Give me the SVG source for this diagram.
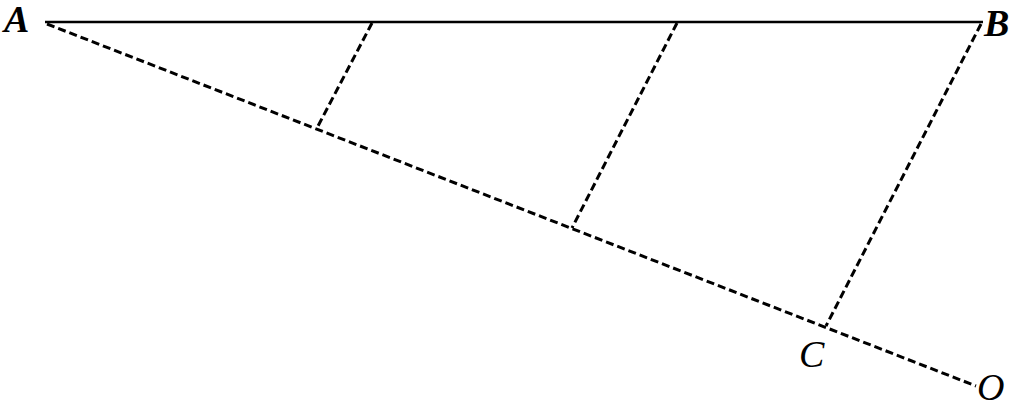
<svg xmlns="http://www.w3.org/2000/svg" width="1024" height="409" viewBox="0 0 1024 409">
<style>
.solid{stroke:#000;stroke-width:2.5;fill:none}
.dash{stroke:#000;stroke-width:3;fill:none;stroke-dasharray:8 4}
.lbl{font-family:"Liberation Serif",serif;font-style:italic;font-size:38px;fill:#000}
.b{font-weight:bold}
</style>
<rect width="1024" height="409" fill="#fff"/>
<g id="connectors">
<line class="solid" x1="45" y1="22" x2="983" y2="22"/>
<line class="dash" x1="47" y1="24" x2="976" y2="386"/>
<line class="dash" x1="372" y1="23" x2="317" y2="128"/>
<line class="dash" x1="677" y1="23" x2="572" y2="228"/>
<line class="dash" x1="981" y1="24" x2="826" y2="326"/>
</g>
<g id="A"><text class="lbl b" x="4" y="32">A</text></g>
<g id="B"><text class="lbl b" x="984" y="36">B</text></g>
<g id="C"><text class="lbl" x="799" y="367">C</text></g>
<g id="O"><text class="lbl" x="977" y="400" font-size="34">O</text></g>
</svg>
